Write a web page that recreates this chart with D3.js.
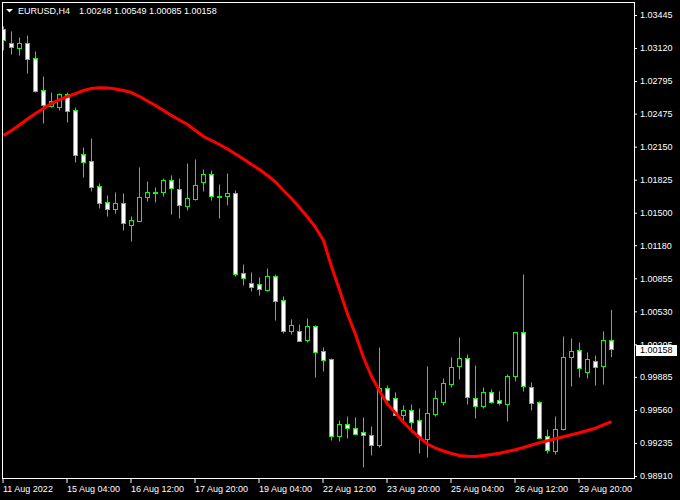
<!DOCTYPE html>
<html>
<head>
<meta charset="utf-8">
<script src="https://cdn.jsdelivr.net/npm/d3@7.9.0/dist/d3.min.js"></script>
<style>
  body { margin: 0; background: #000; }
  svg { display: block; }
  text { font-family: "Liberation Sans", Arial, sans-serif; font-size: 9px; }
</style>
</head>
<body>
<div id="chart"></div>
<script>
const symbol = 'EURUSD,H4';

// H4 candles, oldest first (11 Aug 20:00 .. 30 Aug 12:00)
const open = [1.03317,1.03179,1.03130,1.03179,1.03022,1.02717,1.02550,1.02540,1.02668,1.02511,
  1.02078,1.02009,1.01763,1.01606,1.01537,1.01596,1.01389,1.01428,1.01654,1.01700,
  1.01704,1.01822,1.01743,1.01576,1.01635,1.01802,1.01881,1.01669,1.01664,1.01694,
  1.00907,1.00818,1.00799,1.00749,1.00887,1.00651,1.00346,1.00346,1.00248,1.00386,
  1.00140,1.00061,0.99304,0.99422,0.99392,0.99343,0.99323,0.99225,0.99785,0.99687,
  0.99520,0.99569,0.99461,0.99274,0.99520,0.99638,0.99825,0.99992,1.00071,0.99687,
  0.99599,0.99737,0.99658,0.99618,0.99894,1.00327,0.99795,0.99638,0.99304,0.99166,
  0.99372,1.00081,1.00150,0.99933,1.00051,0.99992,1.00248];
const high = [1.03337,1.03288,1.03229,1.03248,1.03091,1.02845,1.02687,1.02678,1.02687,1.02540,
  1.02146,1.02235,1.01792,1.01674,1.01704,1.01694,1.01468,1.01950,1.01812,1.01753,
  1.01841,1.01871,1.01841,1.01989,1.02028,1.01930,1.01920,1.01782,1.01891,1.01723,
  1.00995,1.00917,1.00868,1.00956,1.00897,1.00681,1.00455,1.00405,1.00464,1.00396,
  1.00179,1.00071,0.99461,0.99500,0.99491,0.99491,0.99402,1.00179,0.99805,0.99737,
  0.99609,0.99618,0.99579,0.99992,0.99756,0.99874,1.00081,1.00278,1.00110,1.00002,
  0.99785,0.99766,0.99746,0.99913,1.00327,1.00897,0.99835,0.99648,0.99372,0.99500,
  1.00287,1.00268,1.00228,1.00130,1.00100,1.00337,1.00549];
const low = [1.03101,1.03061,1.03051,1.02874,1.02687,1.02383,1.02540,1.02511,1.02392,1.01999,
  1.01851,1.01714,1.01547,1.01468,1.01497,1.01330,1.01222,1.01418,1.01615,1.01606,
  1.01664,1.01487,1.01448,1.01527,1.01625,1.01714,1.01625,1.01448,1.01576,1.00877,
  1.00789,1.00730,1.00690,1.00730,1.00445,1.00317,1.00307,1.00238,1.00228,0.99884,
  0.99943,0.99264,0.99254,0.99284,0.99323,0.98999,0.99117,0.99195,0.99648,0.99510,
  0.99431,0.99343,0.99136,0.99097,0.99500,0.99609,0.99785,0.99864,0.99618,0.99481,
  0.99579,0.99628,0.99609,0.99451,0.99845,0.99746,0.99559,0.99281,0.99136,0.99126,
  0.99363,0.99795,0.99884,0.99874,0.99805,0.99815,1.00085];
const close = [1.03209,1.03140,1.03179,1.03022,1.02697,1.02570,1.02599,1.02668,1.02501,1.02068,
  1.01999,1.01753,1.01596,1.01537,1.01596,1.01399,1.01438,1.01664,1.01704,1.01704,
  1.01822,1.01743,1.01586,1.01654,1.01773,1.01881,1.01664,1.01667,1.01694,1.00897,
  1.00858,1.00779,1.00749,1.00887,1.00642,1.00346,1.00405,1.00248,1.00386,1.00130,
  1.00051,0.99304,0.99422,0.99382,0.99333,0.99313,0.99225,0.99785,0.99668,0.99520,
  0.99569,0.99451,0.99294,0.99530,0.99678,0.99825,0.99992,1.00071,0.99687,0.99609,
  0.99737,0.99638,0.99628,0.99894,1.00327,0.99795,0.99638,0.99284,0.99166,0.99382,
  1.00081,1.00140,0.99972,1.00061,0.99992,1.00248,1.00158];

// red smoothed trend line, one value per bar
const trend = [1.02265,1.02314,1.02368,1.02427,1.02481,1.02530,1.02579,1.02618,1.02648,1.02677,
  1.02707,1.02727,1.02734,1.02732,1.02722,1.02707,1.02687,1.02648,1.02604,1.02560,
  1.02511,1.02461,1.02417,1.02373,1.02314,1.02255,1.02215,1.02176,1.02132,1.02083,
  1.02033,1.01979,1.01930,1.01871,1.01807,1.01723,1.01645,1.01556,1.01463,1.01360,
  1.01232,1.00976,1.00745,1.00509,1.00307,1.00081,0.99894,0.99751,0.99623,0.99535,
  0.99444,0.99363,0.99294,0.99230,0.99190,0.99161,0.99136,0.99117,0.99110,0.99107,
  0.99117,0.99126,0.99139,0.99156,0.99173,0.99195,0.99220,0.99242,0.99261,0.99281,
  0.99301,0.99320,0.99340,0.99363,0.99385,0.99417,0.99451];

const priceTicks = [1.03445,1.03120,1.02795,1.02475,1.02150,1.01825,1.01500,1.01180,
  1.00855,1.00530,1.00205,0.99885,0.99560,0.99235,0.98910];
const timeTickBars = [0, 8, 16, 24, 32, 40, 48, 56, 64, 72];
const timeTickLabels = ['11 Aug 2022','15 Aug 04:00','16 Aug 12:00','17 Aug 20:00','19 Aug 04:00',
  '22 Aug 12:00','23 Aug 20:00','25 Aug 04:00','26 Aug 12:00','29 Aug 20:00'];

const width = 680, height = 500;
const candles = open.map((o, i) => ({ i, o, h: high[i], l: low[i], c: close[i] }));
const last = candles[candles.length - 1];

const svg = d3.select('#chart').append('svg')
  .attr('width', width).attr('height', height)
  .style('background', '#000');

const x = d3.scaleLinear().domain([0, candles.length - 1]).range([3.5, 3.5 + 8 * (candles.length - 1)]);
const y = d3.scaleLinear().domain([0.98910, 1.03445]).range([476.5, 15.5]);

svg.append('defs').append('clipPath').attr('id', 'plot')
  .append('rect').attr('x', 3).attr('y', 3).attr('width', 631).attr('height', 475);

const plot = svg.append('g').attr('clip-path', 'url(#plot)');

// wicks
plot.append('g').selectAll('line')
  .data(candles)
  .join('line')
  .attr('x1', d => x(d.i)).attr('x2', d => x(d.i))
  .attr('y1', d => y(d.h)).attr('y2', d => y(d.l))
  .attr('stroke', '#00ff00').attr('stroke-width', 1);

// bodies: white = down bar, black = up bar
plot.append('g').selectAll('rect')
  .data(candles)
  .join('rect')
  .attr('x', d => x(d.i) - 2)
  .attr('y', d => Math.round(y(Math.max(d.o, d.c))) + 0.5)
  .attr('width', 4)
  .attr('height', d => Math.max(1, Math.round(Math.abs(y(d.o) - y(d.c)))))
  .attr('fill', d => d.c > d.o ? '#000' : '#fff')
  .attr('stroke', '#00ff00').attr('stroke-width', 1);

// trend line
plot.append('path')
  .datum(trend)
  .attr('fill', 'none')
  .attr('stroke', '#ff0000')
  .attr('stroke-width', 3)
  .attr('stroke-linejoin', 'round')
  .attr('d', d3.line().x((d, i) => x(i)).y(d => y(d)));

// frame
svg.append('rect')
  .attr('x', 2.5).attr('y', 2.5).attr('width', 632).attr('height', 476)
  .attr('fill', 'none').attr('stroke', '#fff');

// price axis
const yAxis = svg.append('g')
  .attr('transform', 'translate(634,0)')
  .style('color', '#fff')
  .call(d3.axisRight(y).tickValues(priceTicks).tickFormat(d3.format('.5f')).tickSize(3).offset(0));
yAxis.select('.domain').remove();
yAxis.selectAll('text').attr('x', 6).attr('font-family', null).attr('font-size', null);

// time axis
const xAxis = svg.append('g')
  .attr('transform', 'translate(0,479)')
  .style('color', '#fff')
  .call(d3.axisBottom(x).tickValues(timeTickBars)
    .tickFormat((d, k) => timeTickLabels[k]).tickSize(4).offset(0));
xAxis.select('.domain').remove();
xAxis.selectAll('.tick line').attr('transform', 'translate(-0.5,0)');
xAxis.selectAll('text')
  .attr('text-anchor', 'start').attr('x', -0.5).attr('y', 13).attr('dy', null)
  .attr('font-family', null).attr('font-size', null);

// current price label
svg.append('rect')
  .attr('x', 636).attr('y', Math.round(y(last.c)) - 5)
  .attr('width', 41).attr('height', 11)
  .attr('fill', '#fff');
svg.append('text')
  .attr('x', 640).attr('y', y(last.c)).attr('dy', '0.32em')
  .attr('fill', '#000')
  .text(d3.format('.5f')(last.c));

// header
svg.append('path')
  .attr('d', 'M6,9L13,9L9.5,12.5Z')
  .attr('fill', '#fff');
const header = svg.append('text').attr('y', 14).attr('fill', '#fff');
header.append('tspan').attr('x', 18).text(symbol);
header.append('tspan').attr('x', 79)
  .text([last.o, last.h, last.l, last.c].map(d3.format('.5f')).join(' '));
</script>
</body>
</html>
